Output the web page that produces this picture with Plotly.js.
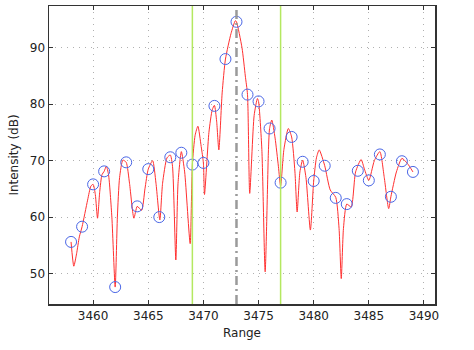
<!DOCTYPE html>
<html>
<head>
<meta charset="utf-8">
<script src="https://cdn.plot.ly/plotly-3.0.1.min.js"></script>
<style>html,body{margin:0;padding:0;background:#fff;}#chart{width:474px;height:350px;}</style>
</head>
<body>
<div id="chart"></div>
<script>
// Sampled range bins (blue circles)
const sampleRange = [3458,3459,3460,3461,3462,3463,3464,3465,3466,3467,3468,3469,3470,3471,3472,3473,3474,3475,3476,3477,3478,3479,3480,3481,3482,3483,3484,3485,3486,3487,3488,3489];
const sampleIntensity = [55.6,58.3,65.8,68.1,47.6,69.7,61.9,68.5,60.0,70.6,71.4,69.3,69.6,79.7,88.0,94.6,81.7,80.5,75.7,66.1,74.2,69.8,66.4,69.1,63.4,62.3,68.2,66.5,71.1,63.6,69.9,68.0];

// Interpolated profile (red curve)
const curveRange = [3458.0,3458.25,3458.5,3458.75,3459.0,3459.5,3459.8,3460.0,3460.2,3460.4,3460.6,3460.8,3461.0,3461.2,3461.4,3461.7,3462.0,3462.2,3462.4,3462.7,3463.0,3463.3,3463.7,3464.0,3464.4,3464.7,3465.0,3465.4,3465.7,3466.05,3466.3,3466.7,3467.0,3467.2,3467.5,3467.7,3468.0,3468.3,3468.8,3469.0,3469.25,3469.5,3469.8,3470.0,3470.1,3470.5,3470.8,3471.0,3471.2,3471.4,3471.7,3472.0,3472.5,3472.9,3473.0,3473.5,3473.8,3474.0,3474.2,3474.6,3474.9,3475.0,3475.3,3475.6,3475.9,3476.0,3476.2,3476.5,3476.8,3477.0,3477.3,3477.7,3478.0,3478.3,3478.5,3478.75,3479.0,3479.3,3479.7,3480.0,3480.25,3480.5,3481.0,3481.5,3482.0,3482.3,3482.5,3482.7,3483.0,3483.4,3483.8,3484.3,3484.6,3485.0,3485.5,3486.0,3486.4,3486.8,3487.0,3487.5,3488.0,3488.5,3489.0];
const curveIntensity = [55.6,51.3,53.5,56.5,58.3,63.0,65.5,65.8,64.0,59.8,64.5,67.5,68.1,69.0,67.5,60.0,47.6,60.0,67.0,70.1,69.7,66.0,59.8,61.9,61.2,65.0,68.5,70.0,66.0,59.5,66.0,70.5,71.0,69.0,52.4,66.0,71.6,68.0,55.3,69.3,74.5,76.1,72.5,69.6,64.0,75.0,79.0,79.8,77.0,71.9,82.0,88.0,92.5,94.8,94.6,90.0,85.0,81.7,64.2,78.0,81.0,80.5,72.0,50.3,72.0,75.7,77.2,74.0,69.0,65.5,72.0,75.7,74.2,68.0,60.9,68.0,70.1,67.0,57.7,66.4,70.5,71.9,69.1,64.8,63.5,58.0,49.1,58.0,62.3,61.8,68.0,70.2,68.5,66.5,70.0,71.6,67.0,61.5,63.6,68.0,70.4,69.5,68.0];

// Vertical markers
const windowEdges = [3469, 3477];
const peakRange = [3473];
const yLimits = [44.6, 97.4];
const xLimits = [3456, 3491];
const xTicks = [3460,3465,3470,3475,3480,3485,3490];
const yTicks = [50,60,70,80,90];

const traces = [
  {x: curveRange, y: curveIntensity, mode: 'lines', type: 'scatter',
   line: {color: '#ff3030', width: 1, shape: 'spline', smoothing: 0.6}, hoverinfo: 'skip'},
  {x: sampleRange, y: sampleIntensity, mode: 'markers', type: 'scatter',
   marker: {symbol: 'circle-open', size: 11, color: '#4a66e6', line: {width: 1, color: '#4a66e6'}}}
];
windowEdges.forEach(v => traces.push({x: [v, v], y: yLimits, mode: 'lines', type: 'scatter',
  line: {color: '#b4e860', width: 1.5}}));
peakRange.forEach(v => traces.push({x: [v, v], y: yLimits, mode: 'lines', type: 'scatter',
  line: {color: '#9a9a9a', width: 2.5, dash: '9px,4px,2px,4px'}}));

const axisCommon = {
  showline: true, linecolor: '#333', linewidth: 1.5, mirror: 'ticks',
  ticks: 'inside', ticklen: 4, tickcolor: '#333',
  showgrid: true, gridcolor: '#b0b0b0', griddash: '1px,5px', gridwidth: 1,
  zeroline: false, tickfont: {family: 'DejaVu Sans', size: 12, color: '#222'}
};

const layout = {
  width: 474, height: 350,
  margin: {l: 49, r: 39, t: 6, b: 46},
  paper_bgcolor: '#fff', plot_bgcolor: '#fff',
  showlegend: false,
  xaxis: Object.assign({}, axisCommon, {range: xLimits, tickvals: xTicks, ticktext: xTicks.map(String),
    title: {text: 'Range', font: {family: 'DejaVu Sans', size: 12, color: '#222'}, standoff: 6}}),
  yaxis: Object.assign({}, axisCommon, {range: yLimits, tickvals: yTicks, ticktext: yTicks.map(String),
    title: {text: 'Intensity (dB)', font: {family: 'DejaVu Sans', size: 12, color: '#222'}, standoff: 8}})
};

Plotly.newPlot('chart', traces, layout, {staticPlot: true, displayModeBar: false});
</script>
</body>
</html>
